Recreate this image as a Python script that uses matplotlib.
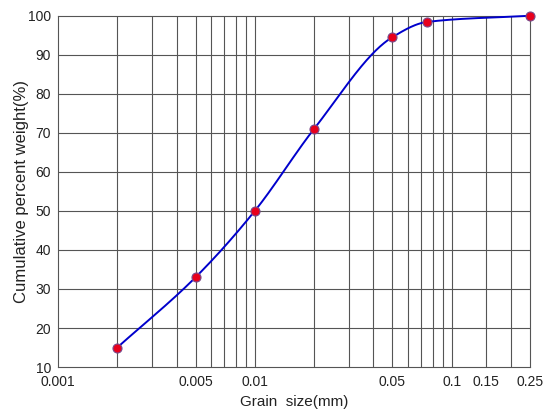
import numpy as np
import matplotlib
matplotlib.use("Agg")
from matplotlib import pyplot as plt

# sieve data
grain = [0.002, 0.005, 0.01, 0.02, 0.05, 0.075, 0.25]
passing = [15, 33, 50, 71, 94.5, 98.4, 100]
tick_vals = [0.001, 0.005, 0.01, 0.05, 0.1, 0.15, 0.25]
tick_text = ['0.001', '0.005', '0.01', '0.05', '0.1', '0.15', '0.25']
grid_vals = [0.002, 0.003, 0.004, 0.005, 0.006, 0.007, 0.008, 0.009, 0.01,
             0.02, 0.03, 0.04, 0.05, 0.06, 0.07, 0.08, 0.09, 0.1, 0.15, 0.2]


def smooth_curve(x, y, xn):
    # monotone cubic through the points, end slopes = end secants
    x = np.asarray(x, float)
    y = np.asarray(y, float)
    h = np.diff(x)
    d = np.diff(y) / h
    m = np.zeros_like(y)
    for k in range(1, len(x) - 1):
        if d[k-1] * d[k] > 0:
            w1 = 2*h[k] + h[k-1]
            w2 = h[k] + 2*h[k-1]
            m[k] = (w1 + w2) / (w1/d[k-1] + w2/d[k])
    m[0] = d[0]
    m[-1] = d[-1]
    out = np.zeros_like(xn)
    for i, xv in enumerate(xn):
        k = min(max(np.searchsorted(x, xv, side='right') - 1, 0), len(x) - 2)
        t = (xv - x[k]) / h[k]
        h00 = 2*t**3 - 3*t**2 + 1
        h10 = t**3 - 2*t**2 + t
        h01 = -2*t**3 + 3*t**2
        h11 = t**3 - t**2
        out[i] = h00*y[k] + h10*h[k]*m[k] + h01*y[k+1] + h11*h[k]*m[k+1]
    return out


plt.rcParams['font.family'] = ['Liberation Sans', 'DejaVu Sans']
fig = plt.figure(figsize=(5.5, 4.19), dpi=100)
ax = fig.add_axes([0.1055, 0.124, 0.858, 0.8385])

lx = np.log10(grain)
xs = np.linspace(lx[0], lx[-1], 400)
ys = smooth_curve(lx, passing, xs)

ax.set_xscale('log')
for g in grid_vals:
    ax.axvline(g, color='#555555', lw=0.8, zorder=1)
for v in range(20, 100, 10):
    ax.axhline(v, color='#555555', lw=0.8, zorder=1)

ax.plot(10**xs, ys, color='#0000cc', lw=1.4, zorder=3, clip_on=False)
ax.plot(grain, passing, 'o', markersize=6.5, markerfacecolor='#e8001c',
        markeredgecolor='#7a4a8a', markeredgewidth=0.8, zorder=4,
        clip_on=False)

ax.set_xlim(0.001, 0.25)
ax.set_ylim(10, 100)
ax.set_xticks(tick_vals)
ax.set_xticklabels(tick_text)
ax.xaxis.set_minor_locator(matplotlib.ticker.NullLocator())
ax.set_yticks(range(10, 101, 10))
ax.tick_params(length=0, labelsize=10, colors='#222222')
ax.tick_params(axis='x', pad=6)
ax.tick_params(axis='y', pad=5)
for s in ax.spines.values():
    s.set_color('#555555')
    s.set_linewidth(0.8)

ax.set_xlabel('Grain  size(mm)', fontsize=11, color='#222222')
ax.set_ylabel('Cumulative percent weight(%)', fontsize=12, color='#222222',
              labelpad=-1)

fig.savefig('out.png', dpi=100)
